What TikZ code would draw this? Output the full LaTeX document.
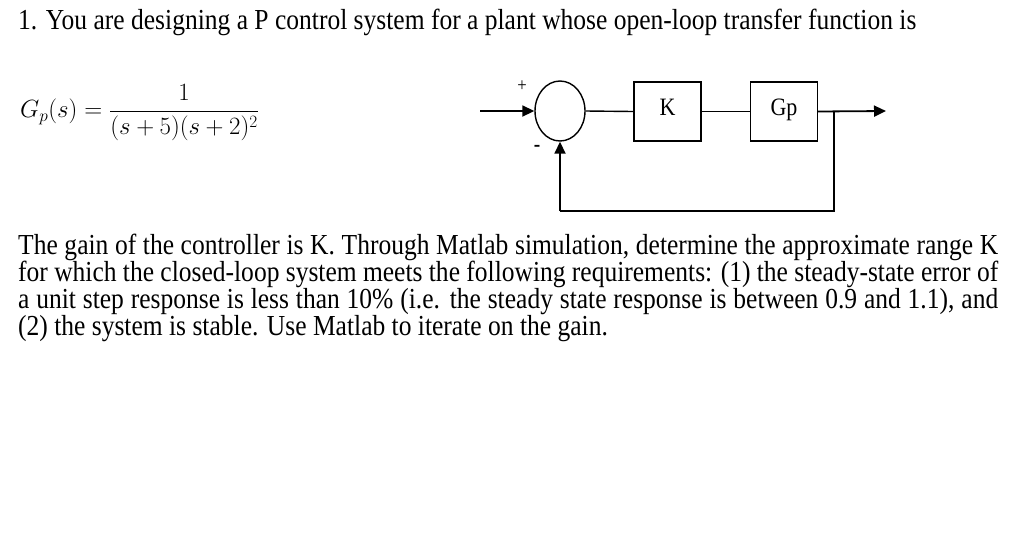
\documentclass[tikz,border=0pt]{standalone}
\usepackage{amsmath}
\usepackage{fontspec}
\setmainfont{Liberation Serif}[FakeStretch=0.88]
\usetikzlibrary{arrows.meta,shapes.geometric}
\begin{document}
\begin{tikzpicture}[x=1pt,y=-1pt,
  blk/.style={draw,line width=1.4pt,minimum width=67pt,minimum height=59pt,inner sep=0pt,font=\fontsize{25}{27}\selectfont},
  ln/.style={line width=1.4pt},
  arr/.style={line width=1.8pt,-{Triangle[length=12pt,width=11pt]}},
  txt/.style={anchor=north west,inner sep=0pt,font=\fontsize{29}{27}\selectfont}]
\useasboundingbox (0,0) rectangle (1024,558);
\fill[white] (0,0) rectangle (1024,558);
\node[txt] (t1) at (18,9) {1. You are designing a P control system for a plant whose open-loop transfer function is};
\node[anchor=west,inner sep=0pt,font=\fontsize{25}{28}\selectfont] (eq) at (20,113)
  {$G_p(s)=\dfrac{1}{(s+5)(s+2)^2}$};
\node[draw,line width=1.4pt,ellipse,minimum width=50pt,minimum height=60pt,inner sep=0pt] (sum) at (560,111) {};
\node[blk] (k) at (667.5,111.5) {\raisebox{8pt}{K}};
\node[blk] (gp) at (784,111.5) {\raisebox{8pt}{Gp}};
\coordinate (in) at (480,111);
\coordinate (br) at (834,111);
\coordinate (out) at (886,111);
\coordinate (fb) at (834,211);
\coordinate (fc) at (560,211);
\draw[arr] (in) -- (sum.west);
\draw[ln] (sum.east) -- (k.west);
\draw[ln] (k.east) -- (gp.west);
\draw[arr] (gp.east) -- (out);
\draw[ln] (br) -- (fb) -- (fc);
\draw[arr] (fc) -- (sum.south);
\node[font=\fontsize{19}{19}\selectfont] (plus) at (522,86) {+};
\node[font=\fontsize{22}{22}\selectfont\bfseries] (minus) at (537,148) {-};
\node[txt,text width=980pt,align=justify] (p) at (18,234) {The gain of the controller is K. Through Matlab simulation, determine the approximate range K\linebreak
for which the closed-loop system meets the following requirements: (1) the steady-state error of\linebreak
a unit step response is less than 10\% (i.e. the steady state response is between 0.9 and 1.1), and\linebreak
(2) the system is stable. Use Matlab to iterate on the gain.};
\end{tikzpicture}
\end{document}
